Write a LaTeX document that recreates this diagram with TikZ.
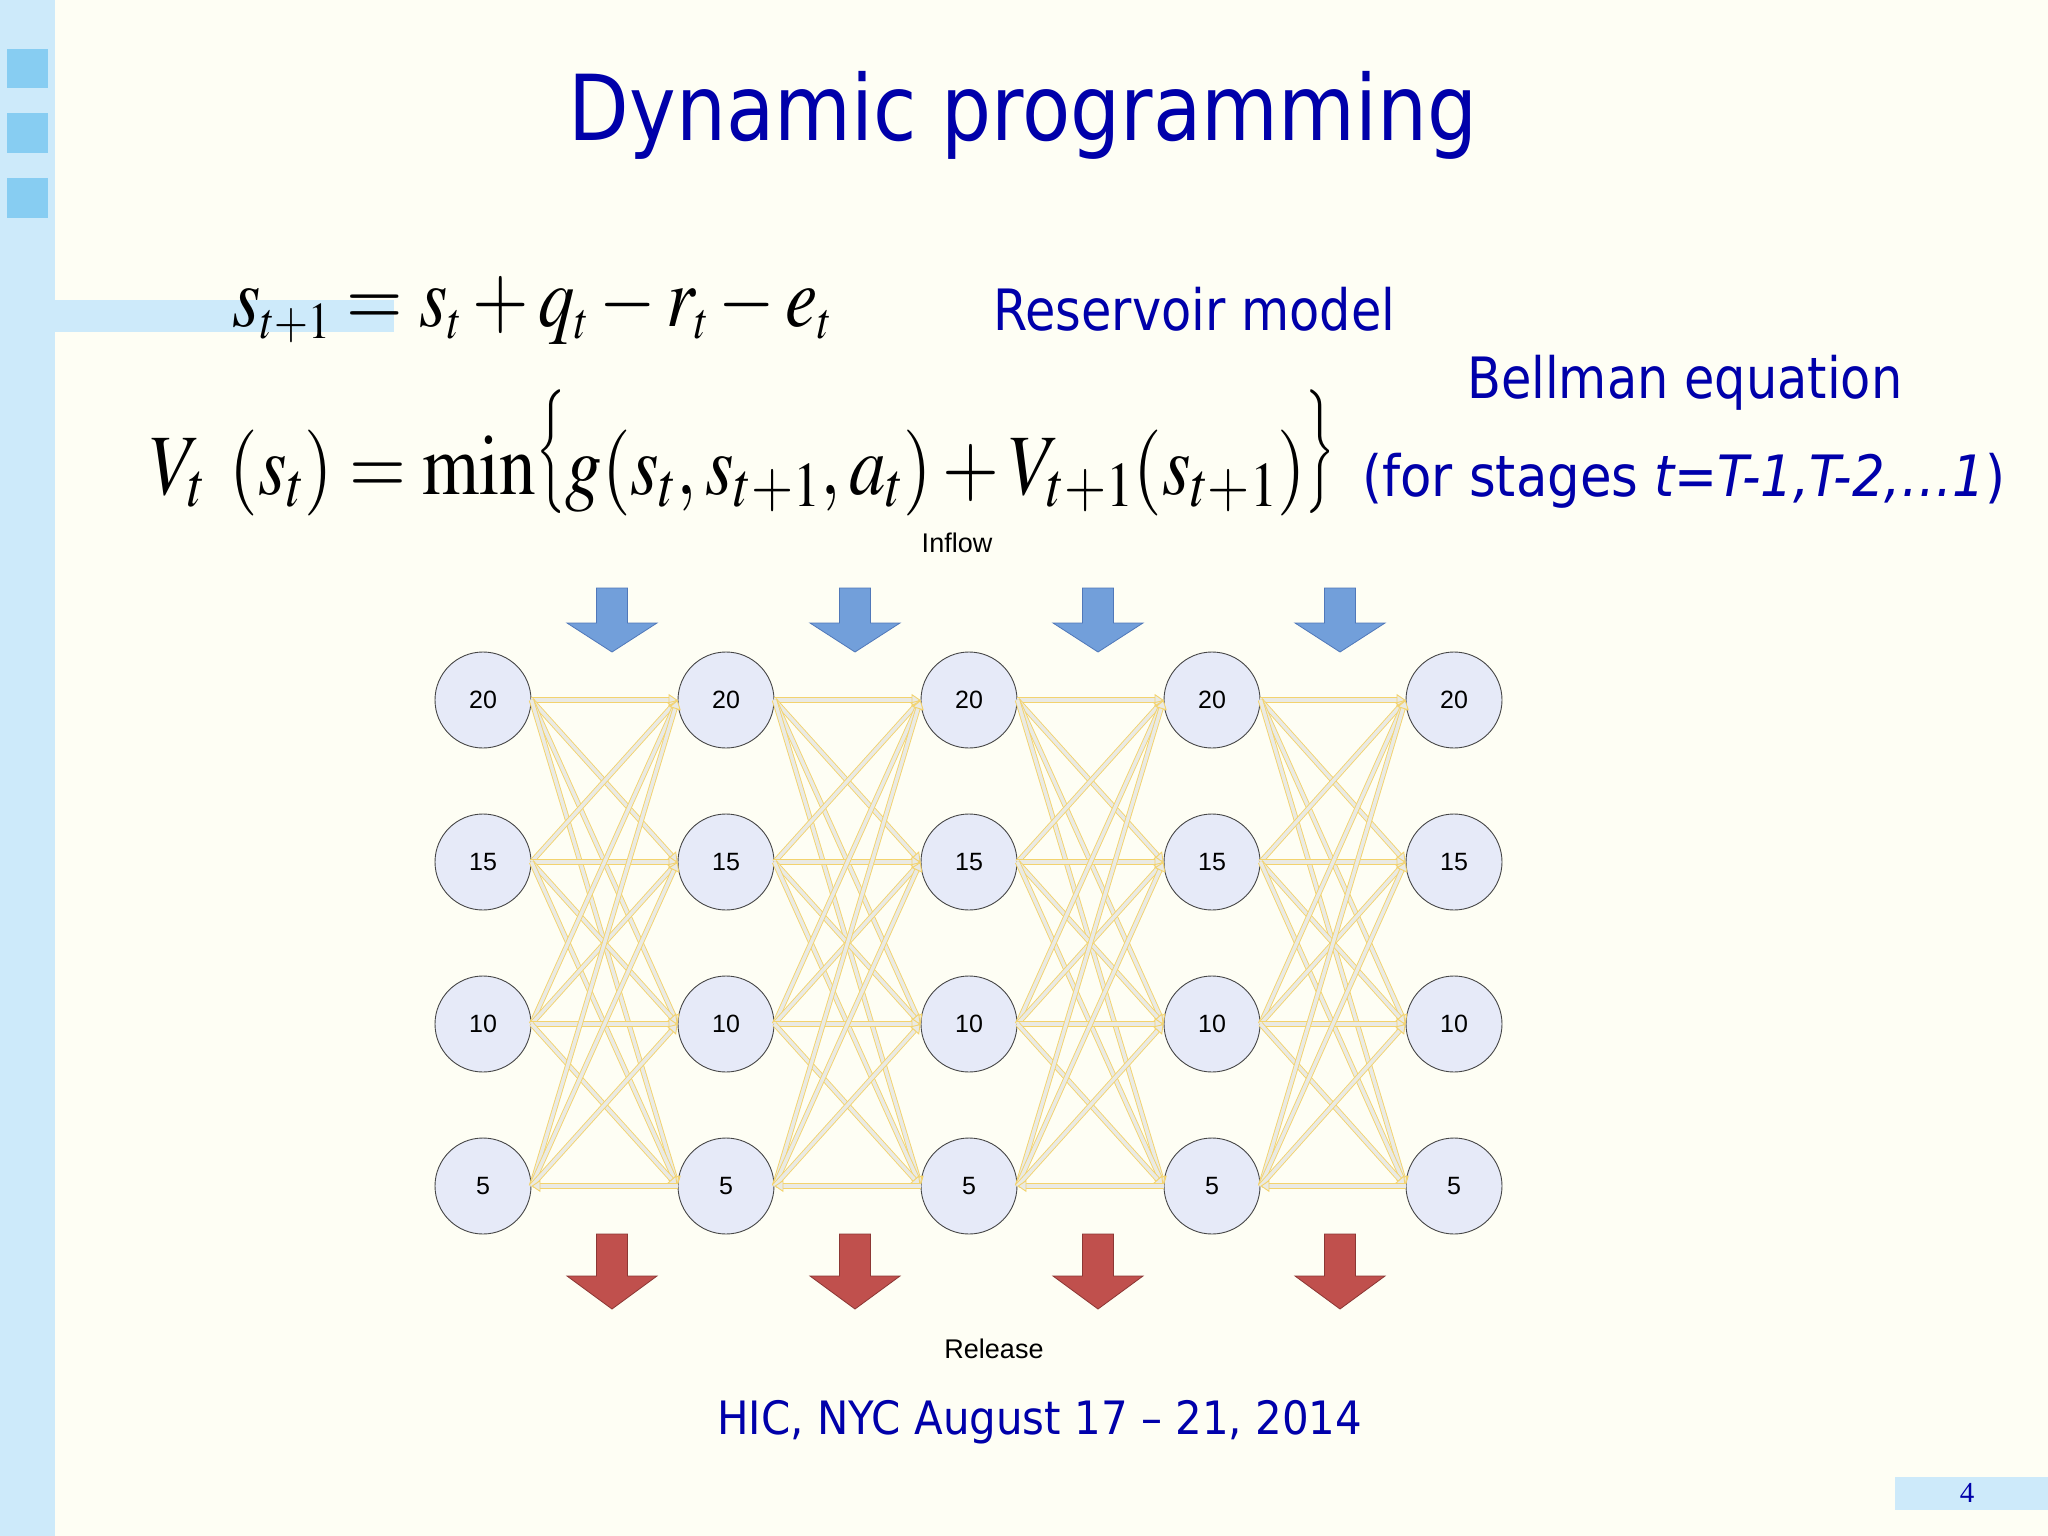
\documentclass[tikz,border=0pt]{standalone}
\usepackage{mathptmx}
\usepackage{amsmath}
\usepackage[no-math]{fontspec}
\usepackage{graphicx}
\usetikzlibrary{arrows.meta}
\newfontfamily\tah[FakeStretch=0.867]{DejaVu Sans}
\newfontfamily\arialf{Liberation Sans}
\newfontfamily\tnr{Liberation Serif}
\definecolor{bgc}{RGB}{254,254,244}
\definecolor{barc}{RGB}{205,234,250}
\definecolor{sqc}{RGB}{135,205,242}
\definecolor{bluetxt}{RGB}{0,0,170}
\definecolor{nodefill}{RGB}{230,234,248}
\definecolor{nodeline}{RGB}{70,70,70}
\definecolor{edgeout}{RGB}{243,211,110}
\definecolor{edgein}{RGB}{234,234,228}
\definecolor{inblue}{RGB}{114,159,218}
\definecolor{inblueline}{RGB}{80,120,185}
\definecolor{outred}{RGB}{192,80,77}
\definecolor{outredline}{RGB}{140,55,52}
\newcommand\mybraceL{\mathopen{\raisebox{25pt}[60pt][18pt]{\scalebox{0.6}[0.8]{$\Bigl\{$}}}}
\newcommand\mybraceR{\mathclose{\raisebox{25pt}[60pt][18pt]{\scalebox{0.6}[0.8]{$\Bigr\}$}}}}
\tikzset{
  state/.style={circle, draw=nodeline, line width=0.9pt, fill=nodefill, minimum size=96pt, inner sep=0pt, font=\arialf\fontsize{25}{28}\selectfont},
  edgearrow/.style={draw=edgeout, line width=0.9pt, double=edgein, double distance=3.5pt, -{Triangle[length=9pt,width=12pt,fill=edgein]}},
  inarrow/.style={fill=inblue, draw=inblueline, line width=0.8pt},
  outarrow/.style={fill=outred, draw=outredline, line width=0.8pt},
  bluetext/.style={text=bluetxt, inner sep=0pt},
}
\begin{document}
\begin{tikzpicture}[x=1pt,y=-1pt]
\useasboundingbox (0,0) rectangle (2048,1536);
\fill[bgc] (0,0) rectangle (2048,1536);
% left decoration
\fill[barc] (0,0) rectangle (55,1536);
\fill[sqc] (7,49) rectangle (48,88);
\fill[sqc] (7,113) rectangle (48,153);
\fill[sqc] (7,178) rectangle (48,218);
\fill[barc] (55,300) rectangle (394,332);
% page number box
\fill[barc] (1895,1477) rectangle (2048,1510);
\node[bluetext, anchor=base] (pnum) at (1967,1502) {\tnr\fontsize{29}{32}\selectfont 4};
% title
\node[bluetext, anchor=base] (title) at (1023,141) {\tah\fontsize{91}{100}\selectfont Dynamic programming};
% equations
\node[inner sep=0pt, anchor=base west] (eqres) at (232,326)
  {\fontsize{86}{100}\selectfont\resizebox{600pt}{\height}{$s_{\scriptscriptstyle t+1} = s_{\scriptscriptstyle t} + q_{\scriptscriptstyle t} - r_{\scriptscriptstyle t} - e_{\scriptscriptstyle t}$}};
\node[inner sep=0pt, anchor=base west] (eqbell) at (150,494)
  {\fontsize{86}{100}\selectfont\resizebox{1185pt}{\height}{$V_t\;\,(s_t) = \min\mybraceL g(s_t, s_{t+1}, a_t) + V_{t+1}(s_{t+1})\mybraceR$}};
% labels
\node[bluetext, anchor=base west] (lres) at (993,330) {\tah\fontsize{57}{64}\selectfont Reservoir model};
\node[bluetext, anchor=base west] (lbell) at (1467,398) {\tah\fontsize{57}{64}\selectfont Bellman equation};
\node[bluetext, anchor=base west] (lstage) at (1362,496) {\tah\fontsize{57}{64}\selectfont\resizebox{643pt}{\height}{(for stages {\itshape t=T-1,T-2,…1})}};
\node[bluetext, anchor=base west] (lhic) at (717,1434) {\tah\fontsize{46}{52}\selectfont\resizebox{645pt}{\height}{HIC, NYC August 17 – 21, 2014}};
\node[inner sep=0pt, anchor=base] (linflow) at (957,552) {\arialf\fontsize{27}{30}\selectfont Inflow};
\node[inner sep=0pt, anchor=base] (lrelease) at (994,1358) {\arialf\fontsize{27}{30}\selectfont Release};
% state nodes
\foreach \c/\x in {1/483,2/726,3/969,4/1212,5/1454} {
  \foreach \r/\y/\v in {1/700/20,2/862/15,3/1024/10,4/1186/5} {
    \node[state] (n\c\r) at (\x,\y) {\v};
  }
}
% transitions
\foreach \c/\n in {1/2,2/3,3/4,4/5} {
  \foreach \i in {1,...,4} {
    \foreach \j in {1,...,4} {
      \ifnum\i\j=44
        \draw[edgearrow] (n\n\j.west) -- (n\c\i.east);
      \else
        \draw[edgearrow] (n\c\i.east) -- (n\n\j.west);
      \fi
    }
  }
}
% inflow and release arrows
\foreach \cx in {612,855,1098,1340} {
  \draw[inarrow] (\cx-15.5,588) -- (\cx+15.5,588) -- (\cx+15.5,623) -- (\cx+45,623)
    -- (\cx,652) -- (\cx-45,623) -- (\cx-15.5,623) -- cycle;
  \draw[outarrow] (\cx-15.5,1234) -- (\cx+15.5,1234) -- (\cx+15.5,1276) -- (\cx+45,1276)
    -- (\cx,1309) -- (\cx-45,1276) -- (\cx-15.5,1276) -- cycle;
}
\end{tikzpicture}
\end{document}
